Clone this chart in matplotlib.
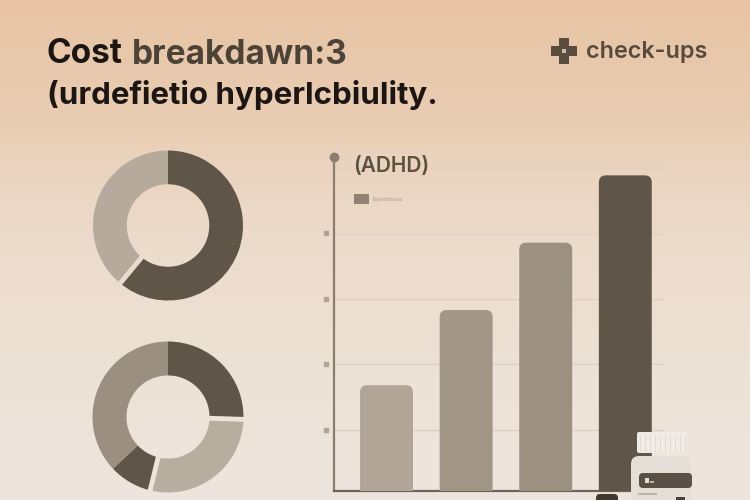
import numpy as np
import matplotlib
matplotlib.use('Agg')
import matplotlib.pyplot as plt
from matplotlib.patches import FancyBboxPatch, Rectangle
from matplotlib.colors import LinearSegmentedColormap

plt.rcParams['font.family'] = ['Inter', 'DejaVu Sans']

W, H = 750, 500

# data
bar_categories = ['A', 'B', 'C', 'D']
bar_values = [1.66, 2.81, 3.84, 4.87]
bar_colors = ['#B0A596', '#A29787', '#9C9080', '#5F5649']
y_ticks = [1, 2, 3, 4, 5]

donut1_values = [61, 39]
donut1_colors = ['#5F5649', '#B5AA9B']
donut1_gaps = [1]

donut2_values = [25.5, 28.3, 9.2, 37.0]
donut2_colors = ['#5F5649', '#B8AE9F', '#5F5649', '#9A8F80']
donut2_gaps = [1, 2]

title_dark = 'Cost'
title_brown = 'breakdawn:3'
title_line2 = '(urdefietio hyperlcbiulity.'
side_label = 'check-ups'
chart_title = '(ADHD)'
legend_label = 'Expenditures'


def px_axes(x0, y0, x1, y1):
    return fig.add_axes([x0 / W, 1 - y1 / H, (x1 - x0) / W, (y1 - y0) / H])


fig = plt.figure(figsize=(7.5, 5), dpi=100)

# background
bg = fig.add_axes([0, 0, 1, 1], zorder=0)
cmap = LinearSegmentedColormap.from_list(
    'bg', [(0, '#E8C4A4'), (0.25, '#E9CDB3'), (0.32, '#EAD3BE'),
           (0.5, '#ECDCCC'), (0.75, '#EDE2D7'), (1, '#EEE6DE')])
bg.imshow(np.linspace(0, 1, 256).reshape(-1, 1), aspect='auto', cmap=cmap,
          extent=[0, W, H, 0])
bg.axis('off')


def donut(cx, cy, r, values, colors, gaps, gap_color):
    ax = px_axes(cx - r - 2, cy - r - 2, cx + r + 2, cy + r + 2)
    ax.patch.set_alpha(0)
    ax.set_zorder(2)
    wedges, _ = ax.pie(values, colors=colors, startangle=90, counterclock=False,
                       radius=1, wedgeprops={'width': 0.45})
    for i in gaps:
        a = np.radians(wedges[i].theta2)
        # theta2 is the trailing edge because of the clockwise order
        ax.plot([0.5 * np.cos(a), 1.05 * np.cos(a)], [0.5 * np.sin(a), 1.05 * np.sin(a)],
                color=gap_color, lw=3.5, solid_capstyle='butt')
    ax.set_xlim(-(r + 2) / r, (r + 2) / r)
    ax.set_ylim(-(r + 2) / r, (r + 2) / r)


donut(168, 225.5, 75, donut1_values, donut1_colors, donut1_gaps, '#EBDBCB')
donut(168, 417, 75.5, donut2_values, donut2_colors, donut2_gaps, '#EDE3D9')

# bars
ax = px_axes(334, 157, 664, 491)
ax.patch.set_alpha(0)
ax.set_zorder(2)
xs = np.arange(len(bar_categories))
ax.set_xlim(-0.66, 3.486)
ax.set_ylim(0.06, 5.17)
ax.set_axisbelow(True)
ax.yaxis.grid(True, color='#DFD1C1', lw=1)
ax.set_yticks(y_ticks)
ax.tick_params(left=False, bottom=False, labelleft=False, labelbottom=False)
ax.set_xticks(xs)

bars = ax.bar(xs, bar_values, width=0.665)
ppx = (3.486 + 0.66) / 330
ppy = (5.17 - 0.06) / 334
for rect, col in zip(bars, bar_colors):
    x, y, w, h = rect.get_x(), rect.get_y(), rect.get_width(), rect.get_height()
    rect.set_visible(False)
    r = 7 * ppx
    ax.add_patch(FancyBboxPatch((x + r, y), w - 2 * r, h - r,
                                boxstyle=f'round,pad={r},rounding_size={r}',
                                mutation_aspect=ppy / ppx, fc=col, ec='none',
                                zorder=3))

for s in ['top', 'right']:
    ax.spines[s].set_visible(False)
ax.spines['left'].set_color('#8B7E6E')
ax.spines['left'].set_linewidth(1.6)
ax.spines['bottom'].set_color('#6E6355')
ax.spines['bottom'].set_linewidth(1.6)

ax.plot([-0.024] * 4, y_ticks[:4], 's', transform=ax.get_yaxis_transform(),
        clip_on=False, color='#B0A595', ms=3.5)
ax.plot([0], [1], 'o', transform=ax.transAxes, clip_on=False, color='#8B7E6E', ms=6)

# overlay in pixel coordinates
ov = fig.add_axes([0, 0, 1, 1], zorder=5)
ov.set_xlim(0, W)
ov.set_ylim(H, 0)
ov.axis('off')

ov.text(47, 54, title_dark, fontsize=24, fontweight='bold', color='#1B1613',
        va='center', ha='left')
ov.text(132, 55, title_brown, fontsize=24, fontweight='bold', color='#4C4338',
        va='center', ha='left')
ov.text(47, 95, title_line2, fontsize=22.5, fontweight='bold', color='#1B1613',
        va='center', ha='left')

ov.add_patch(Rectangle((551, 46), 26, 10, fc='#594D3F', ec='none'))
ov.add_patch(Rectangle((559, 38), 10, 26, fc='#594D3F', ec='none'))
ov.add_patch(Rectangle((562, 49), 4, 4, fc='#CDBBA6', ec='none'))
ov.text(586, 52, side_label, fontsize=16.8, fontweight='semibold', color='#574B3D',
        va='center', ha='left')

ov.text(353, 166, chart_title, fontsize=15, fontweight='semibold', color='#5C5143',
        va='center', ha='left',
        bbox=dict(fc='#EAD4C0', ec='none', pad=1.5))
ov.add_patch(Rectangle((354, 194), 15, 9.5, fc='#8F8373', ec='none'))
ov.text(373, 199, legend_label, fontsize=3.5, color='#A89C8D', va='center', ha='left')

# pill bottle
ov.add_patch(FancyBboxPatch((634, 459), 54, 50, boxstyle='round,pad=3,rounding_size=8',
                            fc='#E6DFD7', ec='none'))
ov.add_patch(FancyBboxPatch((638, 433), 48, 19, boxstyle='round,pad=1,rounding_size=2',
                            fc='#F1ECE6', ec='none'))
for x in range(640, 686, 5):
    ov.plot([x, x], [435, 451], color='#E4DCD3', lw=0.8)
ov.add_patch(FancyBboxPatch((640, 474), 51, 13, boxstyle='round,pad=1,rounding_size=4',
                            fc='#5A5044', ec='none'))
ov.add_patch(Rectangle((645, 478), 4, 5, fc='#E6DFD7', ec='none'))
ov.add_patch(Rectangle((650, 481), 4, 2, fc='#BDB3A6', ec='none'))
ov.add_patch(Rectangle((638, 493), 19, 2, fc='#BDB3A6', ec='none'))
ov.add_patch(Rectangle((676, 497), 9, 3, fc='#4A4136', ec='none'))
ov.add_patch(FancyBboxPatch((597, 495), 20, 8, boxstyle='round,pad=1,rounding_size=4',
                            fc='#40382E', ec='none'))

fig.savefig('out.png', dpi=100)
